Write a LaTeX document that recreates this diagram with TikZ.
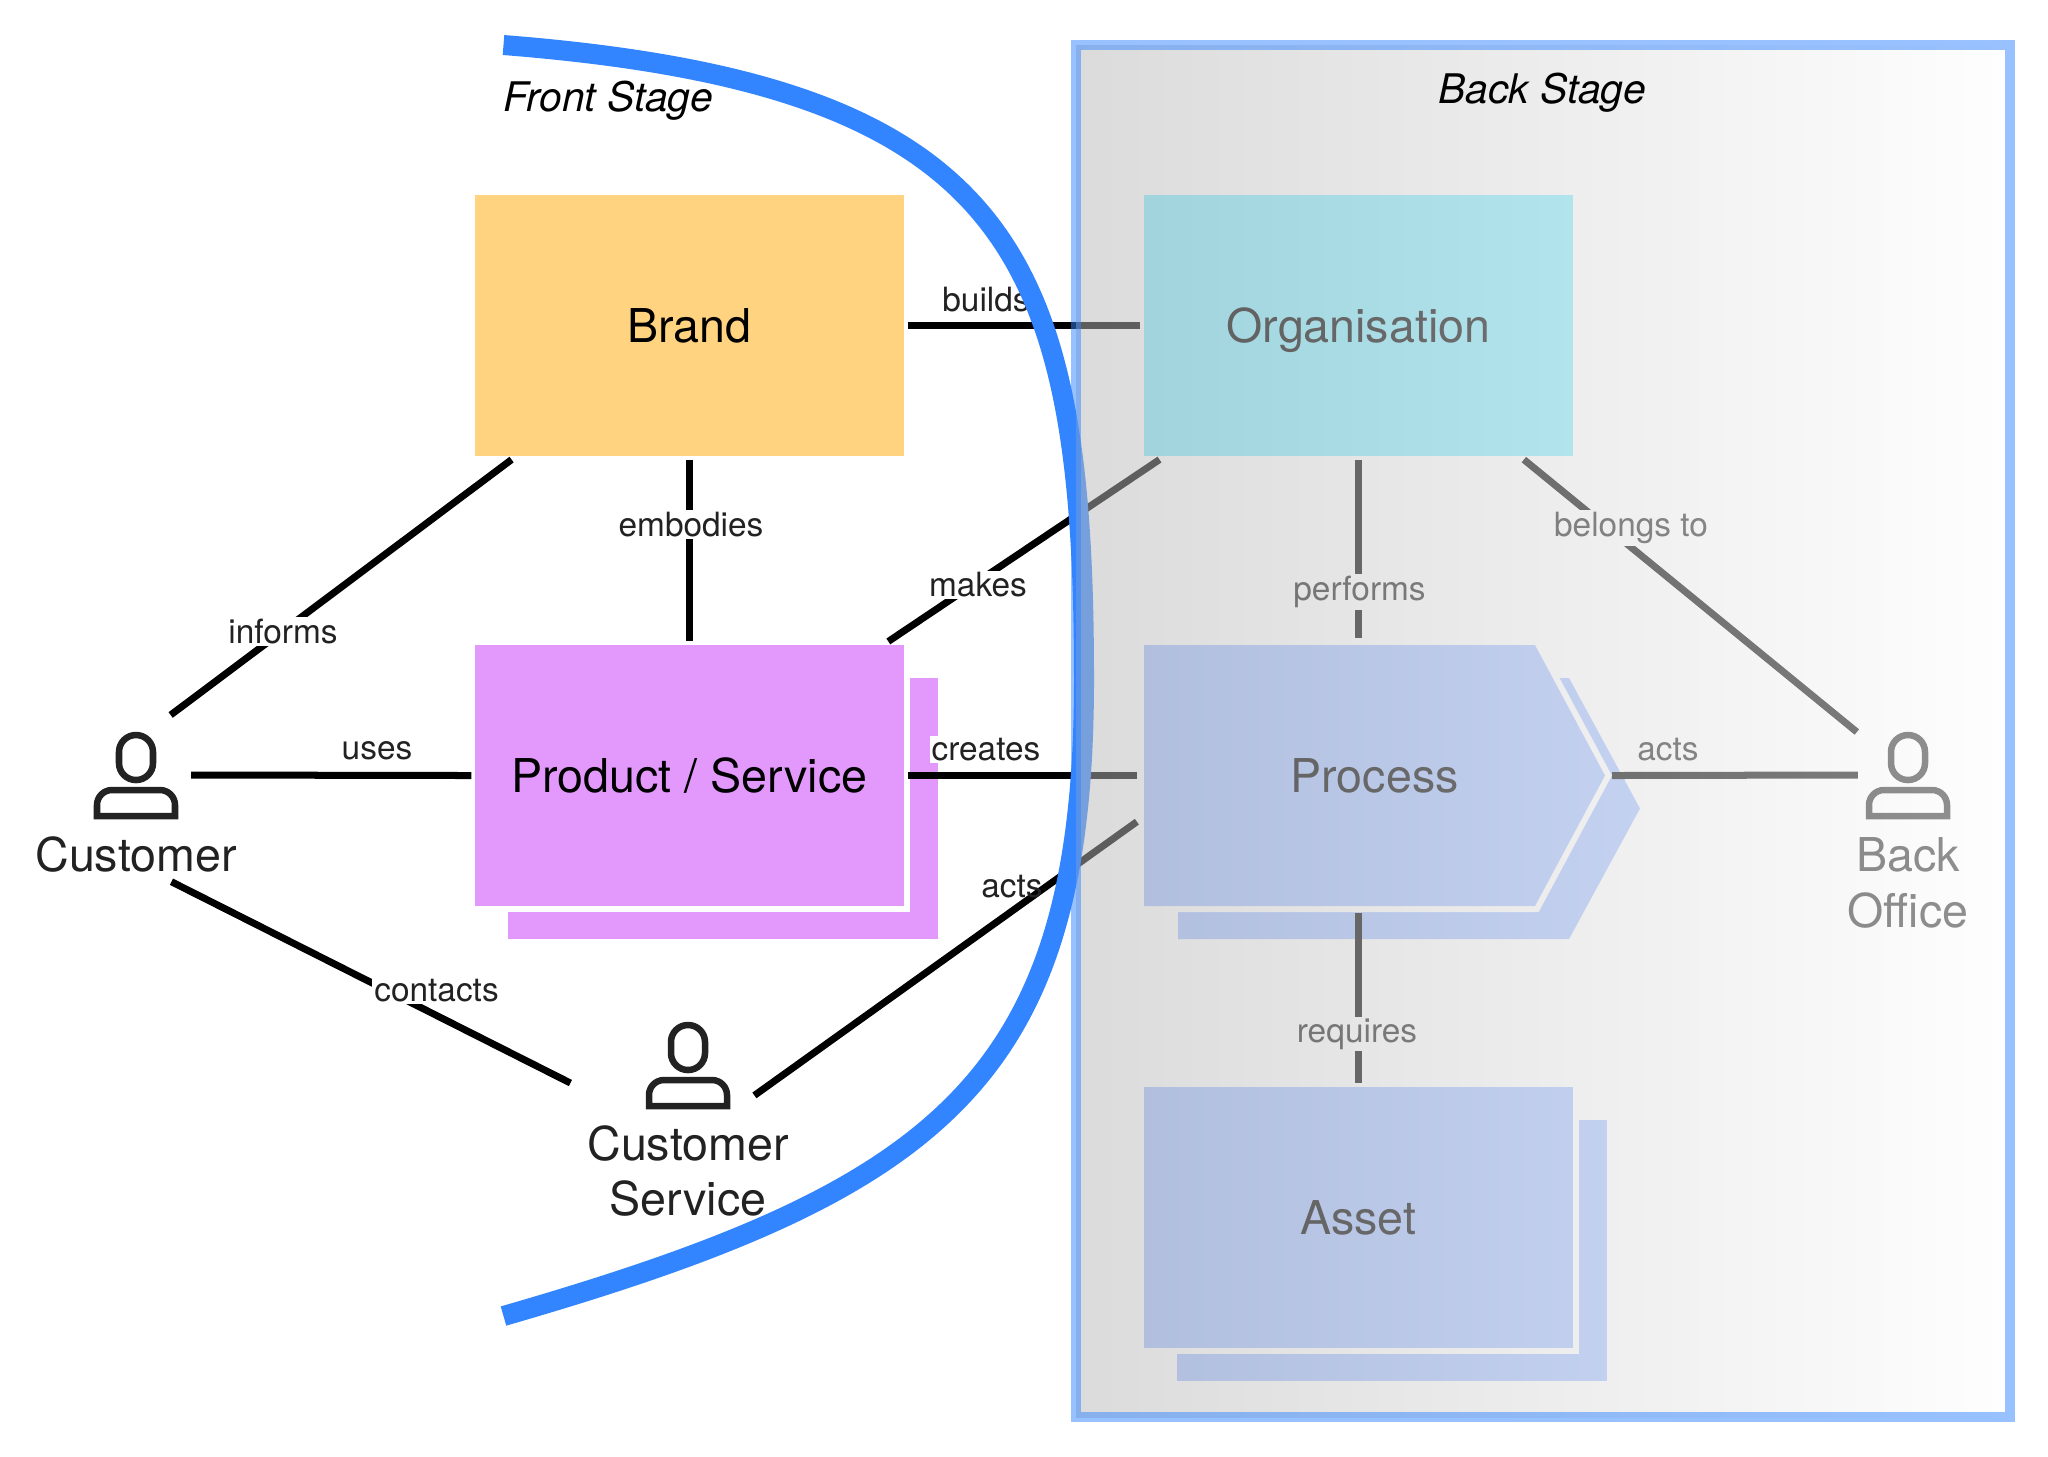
\documentclass[tikz,border=0pt]{standalone}
\usepackage{fontspec}
\setmainfont{TeX Gyre Heros}
\usepackage{xcolor}
\usepackage{tikz}
\usetikzlibrary{positioning}
\usetikzlibrary{calc}

\definecolor{brandcol}{HTML}{FFD37F}
\definecolor{productcol}{HTML}{E399FC}
\definecolor{orgcol}{HTML}{86EBFF}
\definecolor{processcol}{HTML}{A5C0FF}
\definecolor{stagecol}{HTML}{3385FF}
\definecolor{inkcol}{HTML}{222222}

\tikzset{
  box/.style={minimum width=4.29cm, minimum height=2.61cm, inner sep=0pt, outer sep=0.035cm, text depth=0pt, font=\fontsize{13.25}{16}\selectfont},
  backbox/.style={minimum width=4.29cm, minimum height=2.61cm, inner sep=0pt, outer sep=0pt},
  gapped/.style={preaction={draw=white, line width=0.12cm}},
  link/.style={line width=0.07cm},
  linklabel/.style={font=\fontsize{9.5}{11}\selectfont, text=inkcol, inner sep=0.02cm},
  actorlabel/.style={font=\fontsize{13.25}{15.9}\selectfont, text=inkcol, align=center, inner sep=0pt},
  stagelabel/.style={font=\fontsize{11.6}{14}\selectfont\itshape, text=black, inner sep=0pt},
  person/.pic={
    \node[minimum width=1.1cm, minimum height=1.2cm, inner sep=0pt, outer sep=0pt] (-icon) at (0,0) {};
    \draw[inkcol, line width=0.065cm, rounded corners=0.169cm] (-17,-40) rectangle (17,5);
    \draw[inkcol, line width=0.065cm] (-39,41) [rounded corners=0.15cm] -- (-39,15) -- (39,15) [sharp corners] -- (39,41) -- cycle;
  }
}

\begin{document}
\begin{tikzpicture}[x=0.01cm, y=-0.01cm]
\useasboundingbox (0,0) rectangle (2048,1456);
\fill[white] (0,0) rectangle (2048,1456);

% Draw the stacked copies behind the boxes
\node[backbox, fill=productcol] (productback) at (723,808.5) {};
\node[backbox, fill=processcol] (assetback) at (1392,1250.5) {};
\fill[processcol] (1178,678) -- (1569,678) -- (1640,808.5) -- (1569,939) -- (1178,939) -- cycle;

% Draw the boxes
\node[box, fill=brandcol] (brand) at (689.5,325.5) {Brand};
\node[box, fill=orgcol] (organisation) at (1358.3,325.5) {Organisation};
\node[box, fill=productcol, gapped] (product) at (689.5,775.5) {Product / Service};
\node[box, fill=processcol, gapped] (asset) at (1358.3,1217.5) {Asset};
\fill[processcol, gapped] (1144,645) -- (1535,645) -- (1605,775.5) -- (1535,906) -- (1144,906) -- cycle;
\node[box, minimum width=4.61cm, outer sep=0.07cm] (process) at (1374.5,775.5) {Process};

% Draw the people
\pic (customer) at (136,775) {person};
\node[actorlabel, minimum height=0.54cm] (customerlabel) at (136,854) {Customer};
\pic (service) at (688,1065) {person};
\node[actorlabel] (servicelabel) at (688,1171) {Customer\\Service};
\pic (office) at (1908,775) {person};
\node[actorlabel] (officelabel) at (1908,883) {Back\\Office};

% Draw the connectors
\draw[link] (brand.east) -- (organisation.west);
\draw[link] (brand.south) -- (product.north);
\draw[link] (brand.217.3) -- (customer-icon.60.5);
\draw[link] (customer-icon.east) -- (product.west);
\draw[link, shorten >=0.7cm] (customerlabel.-38.5) -- (service-icon.222);
\draw[link, shorten <=0.14cm] (service-icon.-35.3) -- (process.191.3);
\draw[link] (product.34.3) -- (organisation.214.9);
\draw[link] (product.east) -- (process.west);
\draw[link] (organisation.south) -- (process.north -| organisation.south);
\draw[link] (process.south -| asset.north) -- (asset.north);
\draw[link, shorten >=-0.05cm] (organisation.-39) -- (office-icon.140.1);
\draw[link, shorten >=-0.05cm] (process.east) -- (office-icon.west);

% Draw the connector labels
\node[linklabel, fill=white] (informslabel) at (283,631) {informs};
\node[linklabel] (useslabel) at (377,750.5) {uses};
\node[linklabel, fill=white] (createslabel) at (986,749.5) {creates};
\node[linklabel] (frontactslabel) at (1012,886.5) {acts};
\node[linklabel, fill=white] (contactslabel) at (436.5,991) {contacts};
\node[linklabel, fill=white] (embodieslabel) at (691,524.5) {embodies};
\node[linklabel, fill=white] (makeslabel) at (978,585) {makes};
\node[linklabel] (buildslabel) at (986,300) {builds};
\node[linklabel, fill=white] (performslabel) at (1359.5,592) {performs};
\node[linklabel, fill=white] (belongslabel) at (1631,528) {belongs to};
\node[linklabel] (backactslabel) at (1668,750) {acts};
\node[linklabel, fill=white] (requireslabel) at (1357,1034) {requires};

% Draw the line of visibility
\draw[stagecol, line width=0.2cm] (503.5,45) .. controls (1010,85) and (1084,250) .. (1084,680)
  .. controls (1084,1080) and (940,1190) .. (503.5,1316);
\node[stagelabel] (frontstage) at (608,101) {Front Stage};

% Draw the back stage veil
\shade[left color=gray!55, right color=white, fill opacity=0.5] (1076,45) rectangle (2010,1417);
\draw[stagecol, draw opacity=0.5, line width=0.1cm] (1076,45) rectangle (2010,1417);
\node[stagelabel] (backstage) at (1542,93) {Back Stage};

\end{tikzpicture}
\end{document}
